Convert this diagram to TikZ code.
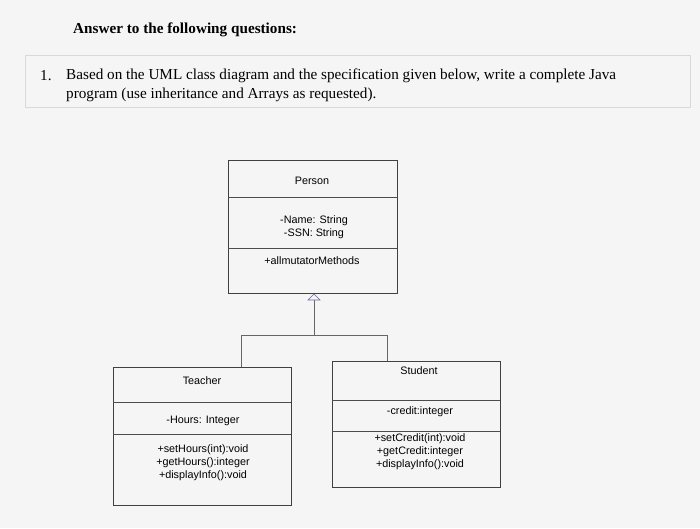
\documentclass[tikz,border=0pt]{standalone}
\usepackage{fontspec}
\setmainfont{Liberation Serif}
\newfontfamily\uml{Liberation Sans}
\begin{document}
\begin{tikzpicture}[x=1pt,y=-1pt,
  box/.style={draw=black!75,line width=0.9pt},
  sep/.style={draw=black!70,line width=0.6pt},
  conn/.style={draw=black!60,line width=0.6pt},
  t/.style={font=\uml\fontsize{10.8}{13}\selectfont,align=center,inner sep=0pt},
  q/.style={font=\fontsize{15.2}{18}\selectfont,anchor=west,inner sep=0pt}]
\fill[gray!8] (0,0) rectangle (700,528);
\useasboundingbox (0,0) rectangle (700,528);
\draw[gray!30] (25,55) rectangle (690,107);
\node[q,font=\bfseries\fontsize{15.2}{18}\selectfont] (h) at (73,30) {Answer to the following questions:};
\node[q] (n) at (40,76) {1.};
\node[q] (l1) at (66,76) {Based on the UML class diagram and the specification given below, write a complete Java};
\node[q] (l2) at (66,95) {program (use inheritance and Arrays as requested).};
% Person
\draw[box] (228,160) rectangle (397,293);
\draw[sep] (228,197) -- (397,197); \draw[sep] (228,248) -- (397,248);
\node[t] (pn) at (312,181) {Person};
\node[t] (pa) at (314,227) {-Name: String\\-SSN: String};
\node[t] (pm) at (312,261) {+allmutatorMethods};
% Teacher
\draw[box] (113,367) rectangle (291,505);
\draw[sep] (113,402) -- (291,402); \draw[sep] (113,434) -- (291,434);
\node[t] (tn) at (202,381) {Teacher};
\node[t] (ta) at (203,421) {-Hours: Integer};
\node[t] (tm) at (203,463) {+setHours(int):void\\+getHours():integer\\+displayInfo():void};
% Student
\draw[box] (332,361) rectangle (500,487);
\draw[sep] (332,400) -- (500,400); \draw[sep] (332,431) -- (500,431);
\node[t] (sn) at (419,371) {Student};
\node[t] (sa) at (420,412) {-credit:integer};
\node[t] (sm) at (420,452) {+setCredit(int):void\\+getCredit:integer\\+displayInfo():void};
% inheritance
\coordinate (tip) at (314,294);
\coordinate (j) at (314,335);
\draw[conn] (241,367) -- (241,335) -- (387,335) -- (387,361);
\draw[conn] (j) -- (314,300);
\draw[draw=gray!80!blue,fill=gray!8,line width=0.6pt] (tip) -- (308,300) -- (320,300) -- cycle;
\end{tikzpicture}
\end{document}
